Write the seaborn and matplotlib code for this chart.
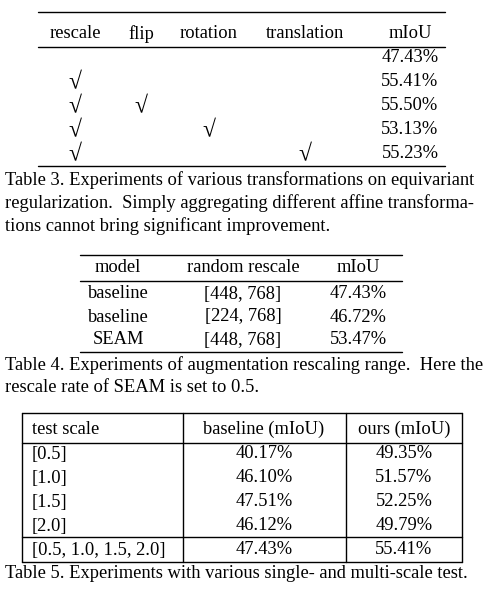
import matplotlib
matplotlib.use("Agg")
import matplotlib.pyplot as plt
import seaborn as sns

sns.set_style("white")
plt.rcParams['font.family'] = ['Liberation Serif', 'DejaVu Serif']

t3_cols = ["rescale", "flip", "rotation", "translation", "mIoU"]
t3_checks = [[0,0,0,0],[1,0,0,0],[1,1,0,0],[1,0,1,0],[1,0,0,1]]
t3_miou = ["47.43%", "55.41%", "55.50%", "53.13%", "55.23%"]
t3_caption = ["Table 3. Experiments of various transformations on equivariant",
              "regularization.  Simply aggregating different affine transforma-",
              "tions cannot bring significant improvement."]

t4_cols = ["model", "random rescale", "mIoU"]
t4_model = ["baseline", "baseline", "SEAM"]
t4_range = ["[448, 768]", "[224, 768]", "[448, 768]"]
t4_miou = ["47.43%", "46.72%", "53.47%"]
t4_caption = ["Table 4. Experiments of augmentation rescaling range.  Here the",
              "rescale rate of SEAM is set to 0.5."]

t5_cols = ["test scale", "baseline (mIoU)", "ours (mIoU)"]
t5_scale = ["[0.5]", "[1.0]", "[1.5]", "[2.0]", "[0.5, 1.0, 1.5, 2.0]"]
t5_base = ["40.17%", "46.10%", "47.51%", "46.12%", "47.43%"]
t5_ours = ["49.35%", "51.57%", "52.25%", "49.79%", "55.41%"]
t5_caption = ["Table 5. Experiments with various single- and multi-scale test."]

fig = plt.figure(figsize=(4.89, 5.89), dpi=100)
ax = fig.add_axes([0, 0, 1, 1])
ax.set_xlim(0, 489); ax.set_ylim(589, 0); ax.axis("off")
fs = 13.3
lw = 1.0

def hl(y, x0, x1):
    ax.plot([x0, x1], [y, y], color="black", lw=lw)

def txt(x, y, s, ha="center", size=fs):
    ax.text(x, y, s, ha=ha, va="center", fontsize=size, color="black")

# Table 3
hl(12, 38, 445); hl(47, 38, 445); hl(166, 38, 445)
xs3 = [75, 141, 209, 305, 410]
for x, c in zip(xs3, t3_cols):
    txt(x, 34, c)
ys3 = [58, 82, 106, 130, 154]
for y, chk, m in zip(ys3, t3_checks, t3_miou):
    for x, c in zip(xs3[:4], chk):
        if c:
            txt(x, y + 2, "√", size=17)
    txt(xs3[4], y, m)
for i, line in enumerate(t3_caption):
    txt(5, 180 + 23 * i, line, ha="left")

# Table 4
hl(255, 80, 402); hl(281, 80, 402); hl(352, 80, 402)
xs4 = [118, 243, 358]
for x, c in zip(xs4, t4_cols):
    txt(x, 268, c)
for i, (a, b, c) in enumerate(zip(t4_model, t4_range, t4_miou)):
    y = 294 + 23 * i
    txt(xs4[0], y, a); txt(xs4[1], y, b); txt(xs4[2], y, c)
for i, line in enumerate(t4_caption):
    txt(5, 365 + 23 * i, line, ha="left")

# Table 5
hl(413, 22, 462); hl(443, 22, 462); hl(537, 22, 462); hl(562, 22, 462)
for x in [22, 183, 346, 462]:
    ax.plot([x, x], [413, 562], color="black", lw=lw)
txt(32, 429, t5_cols[0], ha="left"); txt(264, 429, t5_cols[1]); txt(404, 429, t5_cols[2])
ys5 = [454, 478, 502, 526, 550]
for y, s, b, o in zip(ys5, t5_scale, t5_base, t5_ours):
    txt(32, y, s, ha="left"); txt(264, y, b); txt(404, y, o)
for line in t5_caption:
    txt(5, 574, line, ha="left")

fig.savefig("out.png", dpi=100)
